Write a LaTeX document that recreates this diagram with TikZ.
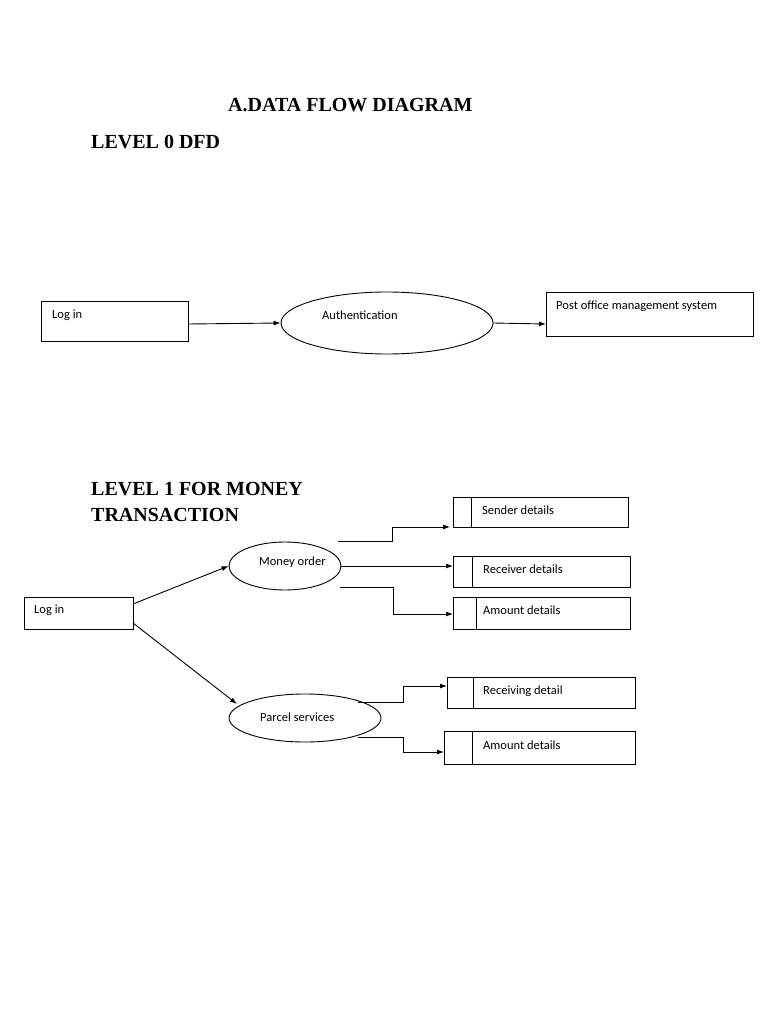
\documentclass[tikz,border=0pt]{standalone}
\usepackage{fontspec}
\setmainfont{Liberation Serif}
\newfontfamily\lbl{Carlito}
\usetikzlibrary{arrows.meta,shapes.geometric}
\begin{document}
\begin{tikzpicture}[x=1pt,y=-1pt,
  ttl/.style={font=\fontsize{20}{22}\selectfont\bfseries,anchor=west,inner sep=0},
  box/.style={draw,line width=0.9pt,anchor=north west,inner sep=0},
  ell/.style={draw,line width=0.9pt,ellipse,inner sep=0},
  lab/.style={font=\lbl\fontsize{12.5}{14}\selectfont,anchor=west,inner sep=0},
  arr/.style={-{Latex[length=7pt,width=5pt]},line width=0.9pt}]
\useasboundingbox (0,0) rectangle (768,1024);
\node[ttl] (t1) at (228,105) {A.DATA FLOW DIAGRAM};
\node[ttl] (t2) at (91,142) {LEVEL 0 DFD};
% level 0
\node[box,minimum width=147pt,minimum height=40pt] (l0) at (41,301) {};
\node[lab] at (52,315) {Log in};
\node[ell,minimum width=212pt,minimum height=62pt] (auth) at (387,323) {};
\node[lab] at (322,315) {Authentication};
\node[box,minimum width=207pt,minimum height=44pt] (pos) at (546,292) {};
\node[lab] at (556,306) {Post office management system};
\draw[arr] (188,324) -- (auth.west);
\draw[arr] (auth.east) -- (546,324);
% level 1
\node[ttl] (t3) at (91,489) {LEVEL 1 FOR MONEY};
\node[ttl] (t4) at (91,515) {TRANSACTION};
\node[box,minimum width=109pt,minimum height=32pt] (l1) at (24,597) {};
\node[lab] at (34,610) {Log in};
\node[ell,minimum width=112pt,minimum height=48pt] (mo) at (285,566) {};
\node[lab] at (259,562) {Money order};
\node[ell,minimum width=152pt,minimum height=48pt] (ps) at (305,718) {};
\node[lab] at (260,717) {Parcel services};
% stores
\node[box,minimum width=175pt,minimum height=30pt] (s1) at (453,497) {};
\draw[line width=0.9pt] (471,497) -- (471,527);
\node[lab] at (482,510) {Sender details};
\node[box,minimum width=177pt,minimum height=31pt] (s2) at (453,556) {};
\draw[line width=0.9pt] (472,556) -- (472,587);
\node[lab] at (483,569) {Receiver details};
\node[box,minimum width=177pt,minimum height=32pt] (s3) at (453,597) {};
\draw[line width=0.9pt] (476,597) -- (476,629);
\node[lab] at (483,610) {Amount details};
\node[box,minimum width=188pt,minimum height=31pt] (s4) at (447,677) {};
\draw[line width=0.9pt] (473,677) -- (473,708);
\node[lab] at (483,691) {Receiving detail};
\node[box,minimum width=191pt,minimum height=33pt] (s5) at (444,731) {};
\draw[line width=0.9pt] (472,731) -- (472,764);
\node[lab] at (483,745) {Amount details};
% arrows
\coordinate (c1) at (338,541);
\draw[arr] (c1) -- (392,541) -- (392,527) -- (450,527);
\draw[arr] (mo.east) -- (mo.east -| s2.west);
\draw[arr] (340,587) -- (393,587) -- (393,614) -- (453,614);
\draw[arr] (133,604) -- (mo.west);
\draw[arr] (133,623) -- (237,704);
\draw[arr] (358,702) -- (403,702) -- (403,686) -- (447,686);
\draw[arr] (358,737) -- (403,737) -- (403,752) -- (444,752);
\end{tikzpicture}
\end{document}
